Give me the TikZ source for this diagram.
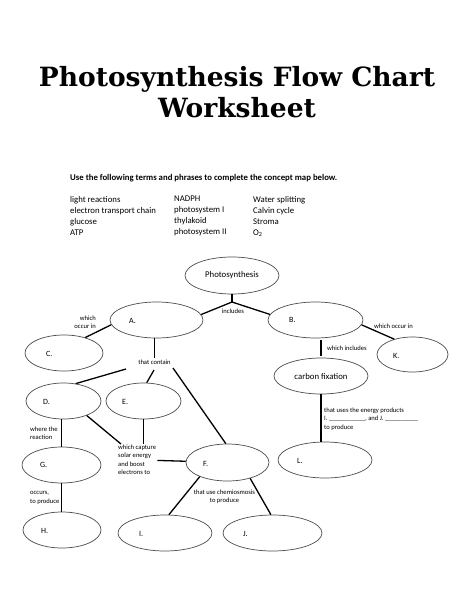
\documentclass[tikz,border=0pt]{standalone}
\usepackage{fontspec}
\setmainfont{Carlito}
\newfontfamily\titlefont{DejaVu Serif}
\usetikzlibrary{shapes.geometric}
\tikzset{bubble/.style={ellipse,draw=black!70,line width=0.7pt,inner sep=0pt},
    link/.style={line width=1.3pt},
    note/.style={font=\fontsize{6.6}{8.2}\selectfont,inner sep=1pt},
    letter/.style={font=\fontsize{8}{9}\selectfont,anchor=west,inner sep=0pt},
    terms/.style={font=\fontsize{8.75}{11}\selectfont,anchor=north west,align=left,inner sep=0pt},
    }

\begin{document}
\begin{tikzpicture}[x=1pt,y=-1pt]
	\path[use as bounding box] (0,0) rectangle (474,611);
	% heading
	\node[anchor=north,inner sep=0pt,align=center,font=\titlefont\bfseries\fontsize{26.5}{31}\selectfont] (title) at (237,66) {Photosynthesis Flow Chart\\Worksheet};
	\node[anchor=west,inner sep=0pt,font=\bfseries\fontsize{8.75}{11}\selectfont] (task) at (70,178) {Use the following terms and phrases to complete the concept map below.};
	\node[terms] (col1) at (70,196) {light reactions\\electron transport chain\\glucose\\ATP};
	\node[terms] (col2) at (174,196) {NADPH\\photosystem I\\thylakoid\\photosystem II};
	\node[terms] (col3) at (253,196) {Water splitting\\Calvin cycle\\Stroma\\O\textsubscript{2}};
	% bubbles
	\node[bubble,minimum width=94pt,minimum height=37pt,font=\fontsize{8.75}{10}\selectfont] (photo) at (232,275.5) {Photosynthesis};
	\node[bubble,minimum width=93pt,minimum height=36pt] (A) at (156.5,320) {};
	\node[bubble,minimum width=95pt,minimum height=36pt] (B) at (315.5,320) {};
	\node[bubble,minimum width=78pt,minimum height=36pt] (C) at (64,353) {};
	\node[bubble,minimum width=71pt,minimum height=35pt] (K) at (412.5,354.5) {};
	\node[bubble,minimum width=94pt,minimum height=36pt,font=\fontsize{8.75}{10}\selectfont] (fix) at (321,376) {carbon fixation};
	\node[bubble,minimum width=75pt,minimum height=36pt] (D) at (63.5,401) {};
	\node[bubble,minimum width=75pt,minimum height=36pt] (E) at (143.5,401) {};
	\node[bubble,minimum width=79pt,minimum height=36pt] (G) at (61.5,465) {};
	\node[bubble,minimum width=83pt,minimum height=37pt] (F) at (227.5,462.5) {};
	\node[bubble,minimum width=94pt,minimum height=36pt] (L) at (325,460) {};
	\node[bubble,minimum width=78pt,minimum height=36pt] (H) at (62,530) {};
	\node[bubble,minimum width=94pt,minimum height=36pt] (I) at (165,533) {};
	\node[bubble,minimum width=99pt,minimum height=36pt] (J) at (272.5,533) {};
	% blanks
	\node[letter] (A-txt) at (129,321) {A.};
	\node[letter] (B-txt) at (289,320) {B.};
	\node[letter] (C-txt) at (46,354) {C.};
	\node[letter] (K-txt) at (393,356) {K.};
	\node[letter] (D-txt) at (43,402) {D.};
	\node[letter] (E-txt) at (122,402) {E.};
	\node[letter] (G-txt) at (40,465) {G.};
	\node[letter] (F-txt) at (203,464) {F.};
	\node[letter] (L-txt) at (297,461) {L.};
	\node[letter] (H-txt) at (41,531) {H.};
	\node[letter] (I-txt) at (139,534) {I.};
	\node[letter] (J-txt) at (243,534) {J.};
	% linking phrases
	\node[note] (includes) at (233,311) {includes};
	\node[note,anchor=east,align=right] (occA) at (97,322) {which\\occur in};
	\node[note] (occB) at (393.5,326) {which occur in};
	\node[note,anchor=west] (incl) at (326,348) {which includes};
	\node[note] (contain) at (154.5,362) {that contain};
	\node[note,anchor=west,align=left] (where) at (29,433.5) {where the\\reaction};
	\node[note,anchor=north west,align=left] (capture) at (117,444) {which capture\\solar energy\\and boost\\electrons to};
	\node[note,anchor=north west,align=left] (energy) at (323,407) {that uses the energy products\\I. \_\_\_\_\_\_\_\_\_\_\_, and J. \_\_\_\_\_\_\_\_\_\_\\to produce};
	\node[note,align=center] (chemi) at (224.5,497) {that use chemiosmosis\\to produce};
	\node[note,anchor=west,align=left] (occurs) at (29,498) {occurs,\\to produce};
	\coordinate (fork) at (232,302);
	\coordinate (cD) at (126,369);
	\coordinate (cE) at (154,370);
	\coordinate (cF) at (173,368);
	% connectors
	\draw[link] (photo.south) -- (fork);
	\draw[link] (fork) -- (A.7);
	\draw[link] (fork) -- (B.173);
	\draw[link] (A.186) -- (C.36);
	\draw[link] (B.354) -- (K.140);
	\draw[link,shorten <=2pt,shorten >=2pt] (B.south -| fix.north) -- (fix.north);
	\draw[link] (A.south -| contain.north) -- (contain.north);
	\draw[link] (cD) -- (D.55);
	\draw[link] (cE) -- (E.80);
	\draw[link] (cF) -- (F.95);
	\draw[link] (D.south -| G.north) -- (G.north);
	\draw[link] (D.-32) -- ([xshift=4pt]capture.north west);
	\draw[link] (E.south) -- (E.south |- capture.north);
	\draw[link] (capture) -- (F);
	\draw[link] (fix.south) -- (fix.south |- L.north);
	\draw[link] (F.207) -- (I.78);
	\draw[link] (F.-35) -- (J.95);
	\draw[link] (G.south) -- (G.south |- H.north);
\end{tikzpicture}
\end{document}
